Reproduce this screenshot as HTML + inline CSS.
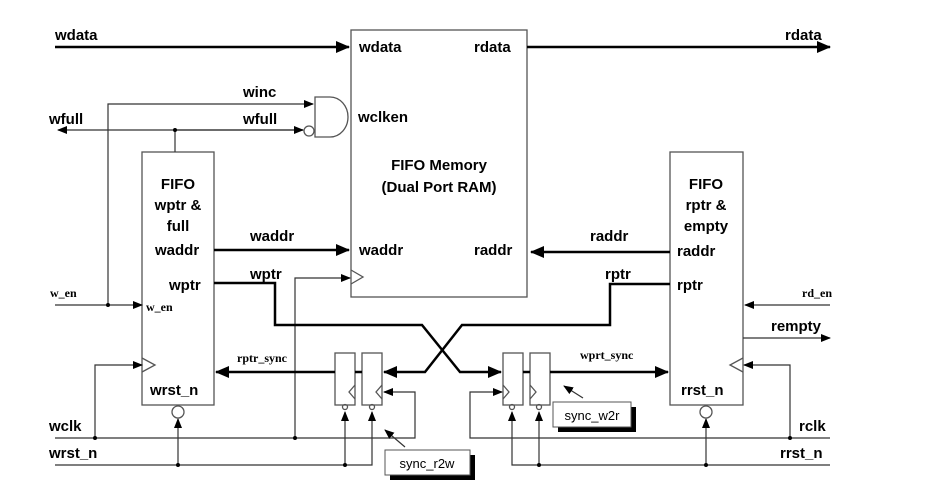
<!DOCTYPE html>
<html><head><style>
html,body{margin:0;padding:0;background:#fff;}
svg{display:block;}
text{font-family:"Liberation Sans",Arial,sans-serif;font-weight:bold;font-size:15px;fill:#000;}
.s{font-family:"Liberation Serif",serif;font-size:12px;}
</style></head><body>
<svg width="929" height="497" viewBox="0 0 929 497" xmlns="http://www.w3.org/2000/svg">
<defs>
<marker id="a" markerWidth="10" markerHeight="8" refX="9" refY="4" orient="auto" markerUnits="userSpaceOnUse"><path d="M0,0 L10,4 L0,8 Z" fill="#000"/></marker>
<marker id="b" markerWidth="14" markerHeight="12" refX="13" refY="6" orient="auto" markerUnits="userSpaceOnUse"><path d="M0,0 L14,6 L0,12 Z" fill="#000"/></marker>
</defs>
<g fill="none" stroke="#555" stroke-width="1.3">
<rect x="351" y="30" width="176" height="267"/>
<rect x="142" y="152" width="72" height="253"/>
<rect x="670" y="152" width="73" height="253"/>
<rect x="335" y="353" width="20" height="52"/>
<rect x="362" y="353" width="20" height="52"/>
<rect x="503" y="353" width="20" height="52"/>
<rect x="530" y="353" width="20" height="52"/>
<path d="M351,270 L363,277 L351,284"/>
<path d="M142,358 L155,365 L142,372"/>
<path d="M743,358 L730,365 L743,372"/>
<path d="M355,385 L349,392 L355,399"/>
<path d="M382,385 L376,392 L382,399"/>
<path d="M503,385 L509,392 L503,399"/>
<path d="M530,385 L536,392 L530,399"/>
<path d="M315,97 L330,97 A18,20 0 0 1 330,137 L315,137 Z"/>
<circle cx="309" cy="131" r="5"/>
<circle cx="178" cy="412" r="6"/>
<circle cx="706" cy="412" r="6"/>
<circle cx="345" cy="407" r="2.5"/><circle cx="372" cy="407" r="2.5"/>
<circle cx="512" cy="407" r="2.5"/><circle cx="539" cy="407" r="2.5"/>
</g>
<g fill="none" stroke="#333" stroke-width="1.2">
<path d="M108,305 L108,104 L313,104" marker-end="url(#a)"/>
<path d="M175,152 L175,130"/>
<path d="M303,130 L58,130" marker-end="url(#a)"/>
<path d="M175,130 L303,130" marker-end="url(#a)"/>
<path d="M55,305 L142,305" marker-end="url(#a)"/>
<path d="M830,305 L745,305" marker-end="url(#a)"/>
<path d="M743,338 L830,338" marker-end="url(#a)"/>
<path d="M55,438 L415,438 L415,392 L384,392" marker-end="url(#a)"/>
<path d="M95,438 L95,365 L142,365" marker-end="url(#a)"/>
<path d="M295,438 L295,278 L350,278" marker-end="url(#a)"/>
<path d="M55,465 L372,465 L372,412" marker-end="url(#a)"/>
<path d="M178,465 L178,419" marker-end="url(#a)"/>
<path d="M345,465 L345,412" marker-end="url(#a)"/>
<path d="M830,438 L470,438 L470,392 L502,392" marker-end="url(#a)"/>
<path d="M790,438 L790,365 L744,365" marker-end="url(#a)"/>
<path d="M830,465 L512,465 L512,412" marker-end="url(#a)"/>
<path d="M539,465 L539,412" marker-end="url(#a)"/>
<path d="M706,465 L706,419" marker-end="url(#a)"/>
<path d="M405,447 L385,430" marker-end="url(#a)"/>
<path d="M583,398 L564,386" marker-end="url(#a)"/>
</g>
<g fill="#000">
<circle cx="175" cy="130" r="2"/><circle cx="108" cy="305" r="2"/>
<circle cx="95" cy="438" r="2"/><circle cx="295" cy="438" r="2"/>
<circle cx="178" cy="465" r="2"/><circle cx="345" cy="465" r="2"/>
<circle cx="790" cy="438" r="2"/><circle cx="539" cy="465" r="2"/>
<circle cx="706" cy="465" r="2"/>
</g>
<g fill="none" stroke="#000" stroke-width="2.5">
<path d="M55,47 L349,47" marker-end="url(#b)"/>
<path d="M527,47 L830,47" marker-end="url(#b)"/>
<path d="M214,250 L349,250" marker-end="url(#b)"/>
<path d="M670,252 L531,252" marker-end="url(#b)"/>
<path d="M214,283 L275,283 L275,325 L422,325 L460,372 L501,372" marker-end="url(#b)"/>
<path d="M670,284 L610,284 L610,325 L462,325 L425,372 L384,372" marker-end="url(#b)"/>
<path d="M335,372 L216,372" marker-end="url(#b)"/>
<path d="M355,372 L362,372"/>
<path d="M523,372 L530,372"/>
<path d="M550,372 L668,372" marker-end="url(#b)"/>
</g>
<rect x="390" y="455" width="85" height="25" fill="#000"/>
<rect x="385" y="450" width="85" height="25" fill="#fff" stroke="#555"/>
<rect x="558" y="407" width="78" height="25" fill="#000"/>
<rect x="553" y="402" width="78" height="25" fill="#fff" stroke="#555"/>
<text x="55" y="40">wdata</text>
<text x="359" y="52">wdata</text>
<text x="474" y="52">rdata</text>
<text x="785" y="40">rdata</text>
<text x="243" y="97">winc</text>
<text x="243" y="124">wfull</text>
<text x="49" y="124">wfull</text>
<text x="358" y="122">wclken</text>
<text x="439" y="170" text-anchor="middle">FIFO Memory</text>
<text x="439" y="192" text-anchor="middle">(Dual Port RAM)</text>
<text x="178" y="189" text-anchor="middle">FIFO</text>
<text x="178" y="210" text-anchor="middle">wptr &amp;</text>
<text x="178" y="231" text-anchor="middle">full</text>
<text x="155" y="255">waddr</text>
<text x="250" y="241">waddr</text>
<text x="359" y="255">waddr</text>
<text x="169" y="290">wptr</text>
<text x="250" y="279">wptr</text>
<text x="474" y="255">raddr</text>
<text x="590" y="241">raddr</text>
<text x="677" y="256">raddr</text>
<text x="706" y="189" text-anchor="middle">FIFO</text>
<text x="706" y="210" text-anchor="middle">rptr &amp;</text>
<text x="706" y="231" text-anchor="middle">empty</text>
<text x="605" y="279">rptr</text>
<text x="677" y="290">rptr</text>
<text x="771" y="331">rempty</text>
<text x="150" y="395">wrst_n</text>
<text x="681" y="395">rrst_n</text>
<text x="49" y="431">wclk</text>
<text x="49" y="458">wrst_n</text>
<text x="799" y="431">rclk</text>
<text x="780" y="458">rrst_n</text>
<text class="s" x="50" y="297">w_en</text>
<text class="s" x="146" y="311">w_en</text>
<text class="s" x="802" y="297">rd_en</text>
<text class="s" x="237" y="362">rptr_sync</text>
<text class="s" x="580" y="359">wprt_sync</text>
<text x="427" y="468" text-anchor="middle" style="font-weight:normal;font-size:13px">sync_r2w</text>
<text x="592" y="420" text-anchor="middle" style="font-weight:normal;font-size:13px">sync_w2r</text>
</svg>
</body></html>
